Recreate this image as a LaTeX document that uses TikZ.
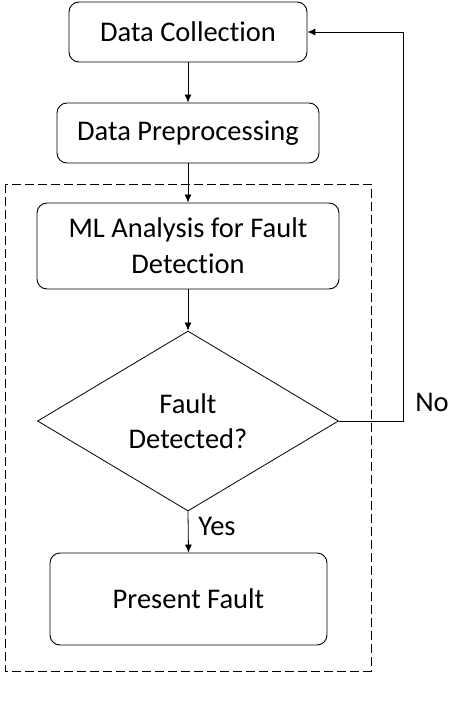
\documentclass[tikz,border=0pt]{standalone}
\usepackage{fontspec}
\setmainfont{Carlito}[Ligatures=NoCommon]
\usetikzlibrary{shapes.geometric,arrows.meta}
\begin{document}
\begin{tikzpicture}[x=1pt,y=-1pt,
  box/.style={draw, rounded corners=10pt, line width=0.9pt, align=center, inner sep=0pt, font=\fontsize{28.5}{36}\selectfont},
  dec/.style={draw, diamond, line width=0.8pt, inner sep=0pt, align=center, font=\fontsize{28.5}{35}\selectfont},
  arr/.style={line width=0.8pt, -{Latex[length=8pt,width=7pt]}},
  lbl/.style={font=\fontsize{28.5}{36}\selectfont}]
\useasboundingbox (0,0) rectangle (474,701);
\draw[line width=0.9pt, dash pattern=on 9pt off 4pt] (5,184) rectangle (371,671);
\node[box, minimum width=238pt, minimum height=60pt] (dc) at (188,32) {Data Collection};
\node[box, minimum width=262pt, minimum height=60pt] (dp) at (188,133) {Data Preprocessing};
\node[box, minimum width=302pt, minimum height=86pt] (ml) at (188,246) {ML Analysis for Fault\\Detection};
\node[dec, minimum width=301pt, minimum height=180pt] (fd) at (188,421) {Fault\\Detected?};
\node[box, minimum width=277pt, minimum height=92pt] (pf) at (188.5,599) {Present Fault};
\coordinate (c1) at (403,421);
\coordinate (c2) at (403,32);
\draw[arr] (dc) -- (dp);
\draw[arr] (dp) -- (ml);
\draw[arr] (ml) -- (fd);
\draw[arr] (fd.south) -- (pf.north);
\draw[arr] (fd.east) -- (c1) -- (c2) -- (dc.east);
\node[lbl] (no) at (432,402) {No};
\node[lbl] (yes) at (217,526) {Yes};
\end{tikzpicture}
\end{document}
